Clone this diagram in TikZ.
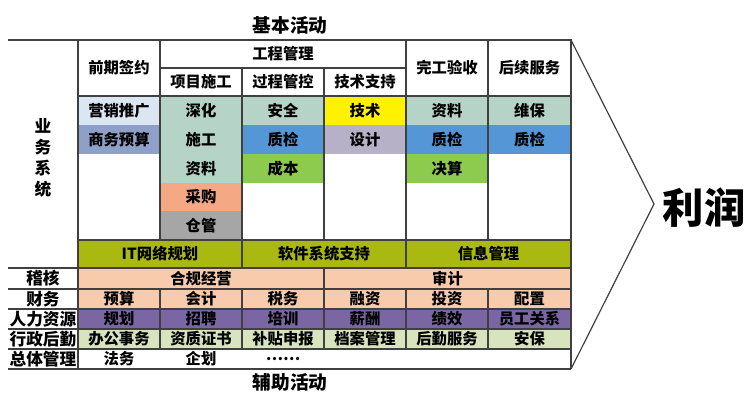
\documentclass[tikz,border=0pt]{standalone}
\usepackage{fontspec}
\setmainfont{Noto Sans CJK SC}
\definecolor{sage}{HTML}{B5D3C7}
\definecolor{paleblue}{HTML}{DCE6F2}
\definecolor{slate}{HTML}{8EA0C8}
\definecolor{salmon}{HTML}{F4A984}
\definecolor{midgray}{HTML}{A6A6A6}
\definecolor{qcblue}{HTML}{5596D6}
\definecolor{leaf}{HTML}{8DCB4E}
\definecolor{lilac}{HTML}{B6B1C6}
\definecolor{olive}{HTML}{AAB90F}
\definecolor{peach}{HTML}{F8CBAD}
\definecolor{violet}{HTML}{7B66A4}
\definecolor{mint}{HTML}{D7E4BD}
\tikzset{
  grid/.style={draw=black!75, line width=0.9pt},
  cell/.style={inner sep=0pt, font=\bfseries\fontsize{11.5}{12}\selectfont},
  side/.style={inner sep=0pt, font=\bfseries\fontsize{12.5}{13}\selectfont},
  title/.style={inner sep=0pt, font=\bfseries\fontsize{14}{15}\selectfont}
}
\begin{document}
\begin{tikzpicture}[x=0.75pt,y=-0.75pt]
        \useasboundingbox (0,0) rectangle (747,413);
        % colour fills
        \fill[paleblue] (78,96) rectangle (160,125);
        \fill[slate] (78,125) rectangle (160,154);
        \fill[sage] (160,96) rectangle (242,183);
        \fill[salmon] (160,183) rectangle (242,211);
        \fill[midgray] (160,211) rectangle (242,240);
        \fill[sage] (242,96) rectangle (324,125);
        \fill[qcblue] (242,125) rectangle (324,154);
        \fill[leaf] (242,154) rectangle (324,183);
        \fill[yellow] (324,96) rectangle (406,125);
        \fill[lilac] (324,125) rectangle (406,154);
        \fill[sage] (406,96) rectangle (488,125);
        \fill[qcblue] (406,125) rectangle (488,154);
        \fill[leaf] (406,154) rectangle (488,183);
        \fill[sage] (488,96) rectangle (571,125);
        \fill[qcblue] (488,125) rectangle (571,154);
        \fill[olive] (78,240) rectangle (571,268);
        \fill[peach] (78,268) rectangle (571,309);
        \fill[violet] (78,309) rectangle (571,329);
        \fill[mint] (78,329) rectangle (571,349);
        % grid
        \draw[grid] (8,40) -- (571,40) -- (571,369);
        \draw[grid] (78,40) -- (78,369);
        \draw[grid] (160,68) -- (406,68);
        \draw[grid] (78,96) -- (571,96);
        \draw[grid] (78,240) -- (571,240);
        \foreach \y in {268,289,309,329,349,369}
            \draw[grid] (8,\y) -- (571,\y);
        \foreach \x in {160,406,488}
            \draw[grid] (\x,40) -- (\x,240);
        \foreach \x in {242,324}
            \draw[grid] (\x,68) -- (\x,240);
        \draw[grid] (242,240) -- (242,268);
        \draw[grid] (406,240) -- (406,268);
        \draw[grid] (324,268) -- (324,289);
        \foreach \x in {160,242,324,406,488}
            \draw[grid] (\x,289) -- (\x,349);
        % profit chevron
        \draw[grid] (571,40) -- (654,204) -- (571,369);
        \node[inner sep=0pt, font=\bfseries\fontsize{31}{32}\selectfont] (lirun) at (704,208) {利润};
        % headings
        \node[title] (jiben) at (290,25) {基本活动};
        \node[title] (fuzhu) at (290,382) {辅助活动};
        \node[side, align=center, font=\bfseries\fontsize{12.5}{15.8}\selectfont] (yewu) at (43,158) {业\\务\\系\\统};
        \node[cell] (gcgl) at (283,54) {工程管理};
        \node[cell] (qqqy) at (119,68) {前期签约};
        \node[cell] (wgys) at (447,68) {完工验收};
        \node[cell] (hxfw) at (529.5,68) {后续服务};
        \node[cell] (xmsg) at (201,82) {项目施工};
        \node[cell] (gcgk) at (283,82) {过程管控};
        \node[cell] (jszc) at (365,82) {技术支持};
        % business cells
        \node[cell] (yxtg) at (119,110.5) {营销推广};
        \node[cell] (swys) at (119,139.5) {商务预算};
        \node[cell] (shenhua) at (201,110.5) {深化};
        \node[cell] (shigong) at (201,139.5) {施工};
        \node[cell] (ziliao) at (201,168.5) {资料};
        \node[cell] (caigou) at (201,197) {采购};
        \node[cell] (cangguan) at (201,225.5) {仓管};
        \node[cell] (anquan) at (283,110.5) {安全};
        \node[cell] (zhijian) at (283,139.5) {质检};
        \node[cell] (chengben) at (283,168.5) {成本};
        \node[cell] (jishu) at (365,110.5) {技术};
        \node[cell] (sheji) at (365,139.5) {设计};
        \node[cell] (ziliaob) at (447,110.5) {资料};
        \node[cell] (zhijianb) at (447,139.5) {质检};
        \node[cell] (juesuan) at (447,168.5) {决算};
        \node[cell] (weibao) at (529.5,110.5) {维保};
        \node[cell] (zhijianc) at (529.5,139.5) {质检};
        \node[cell] (itgh) at (160,254) {IT网络规划};
        \node[cell] (rjxt) at (324,254) {软件系统支持};
        \node[cell] (xxgl) at (488.5,254) {信息管理};
        % support rows
        \node[side] (jihe) at (43,278.5) {稽核};
        \node[cell] (hgjy) at (201,278.5) {合规经营};
        \node[cell] (shenji) at (447.5,278.5) {审计};
        \node[side] (caiwu) at (43,299) {财务};
        \node[side] (rlzy) at (43,319) {人力资源};
        \node[side] (xzhq) at (43,339) {行政后勤};
        \node[side] (ztgl) at (43,359) {总体管理};
        \foreach \x/\a/\b/\c/\d [count=\i] in
            {119/预算/规划/办公事务/法务, 201/会计/招聘/资质证书/企划,
             283/税务/培训/补贴申报/……, 365/融资/薪酬/档案管理/{},
             447/投资/绩效/后勤服务/{}, 529.5/配置/员工关系/安保/{}} {
            \node[cell] (cw\i) at (\x,299) {\a};
            \node[cell] (rl\i) at (\x,319) {\b};
            \node[cell] (xz\i) at (\x,339) {\c};
            \node[cell] (zt\i) at (\x,359) {\d};
        }
    \end{tikzpicture}
\end{document}
